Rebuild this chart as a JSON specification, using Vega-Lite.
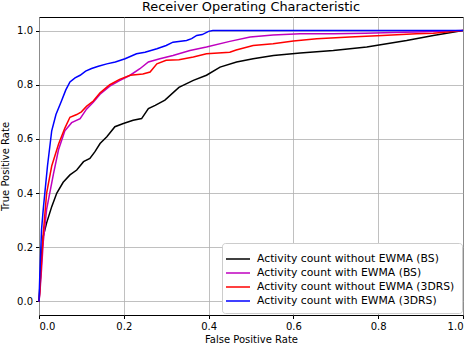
{
  "$schema": "https://vega.github.io/schema/vega-lite/v6.json",
  "autosize": {"type": "none"},
  "padding": {"left": 39, "top": 17, "right": 11, "bottom": 34},
  "width": 424,
  "height": 298,
  "background": "white",
  "config": {
    "font": "DejaVu Sans",
    "view": {"stroke": "black", "strokeWidth": 1}
  },
  "title": {"text": "Receiver Operating Characteristic", "fontSize": 12.9, "fontWeight": "normal", "font": "DejaVu Sans", "color": "black", "offset": 3},
  "data": {"values": [
    {"s":"Activity count without EWMA (BS)","x":0,"y":0},
    {"s":"Activity count without EWMA (BS)","x":0.003,"y":0.08},
    {"s":"Activity count without EWMA (BS)","x":0.006,"y":0.17},
    {"s":"Activity count without EWMA (BS)","x":0.01,"y":0.24},
    {"s":"Activity count without EWMA (BS)","x":0.018,"y":0.29},
    {"s":"Activity count without EWMA (BS)","x":0.03,"y":0.35},
    {"s":"Activity count without EWMA (BS)","x":0.042,"y":0.40},
    {"s":"Activity count without EWMA (BS)","x":0.057,"y":0.44},
    {"s":"Activity count without EWMA (BS)","x":0.073,"y":0.467},
    {"s":"Activity count without EWMA (BS)","x":0.089,"y":0.485},
    {"s":"Activity count without EWMA (BS)","x":0.105,"y":0.516},
    {"s":"Activity count without EWMA (BS)","x":0.12,"y":0.528},
    {"s":"Activity count without EWMA (BS)","x":0.132,"y":0.553},
    {"s":"Activity count without EWMA (BS)","x":0.144,"y":0.583},
    {"s":"Activity count without EWMA (BS)","x":0.16,"y":0.608},
    {"s":"Activity count without EWMA (BS)","x":0.179,"y":0.645},
    {"s":"Activity count without EWMA (BS)","x":0.199,"y":0.657},
    {"s":"Activity count without EWMA (BS)","x":0.222,"y":0.669},
    {"s":"Activity count without EWMA (BS)","x":0.242,"y":0.675},
    {"s":"Activity count without EWMA (BS)","x":0.258,"y":0.712},
    {"s":"Activity count without EWMA (BS)","x":0.274,"y":0.724},
    {"s":"Activity count without EWMA (BS)","x":0.297,"y":0.743},
    {"s":"Activity count without EWMA (BS)","x":0.33,"y":0.79},
    {"s":"Activity count without EWMA (BS)","x":0.364,"y":0.816},
    {"s":"Activity count without EWMA (BS)","x":0.395,"y":0.835},
    {"s":"Activity count without EWMA (BS)","x":0.427,"y":0.865},
    {"s":"Activity count without EWMA (BS)","x":0.466,"y":0.884},
    {"s":"Activity count without EWMA (BS)","x":0.505,"y":0.896},
    {"s":"Activity count without EWMA (BS)","x":0.553,"y":0.908},
    {"s":"Activity count without EWMA (BS)","x":0.616,"y":0.917},
    {"s":"Activity count without EWMA (BS)","x":0.694,"y":0.926},
    {"s":"Activity count without EWMA (BS)","x":0.773,"y":0.939},
    {"s":"Activity count without EWMA (BS)","x":0.82,"y":0.951},
    {"s":"Activity count without EWMA (BS)","x":0.867,"y":0.963},
    {"s":"Activity count without EWMA (BS)","x":0.93,"y":0.982},
    {"s":"Activity count without EWMA (BS)","x":1,"y":1},

    {"s":"Activity count with EWMA (BS)","x":0,"y":0},
    {"s":"Activity count with EWMA (BS)","x":0.002,"y":0.03},
    {"s":"Activity count with EWMA (BS)","x":0.006,"y":0.12},
    {"s":"Activity count with EWMA (BS)","x":0.01,"y":0.22},
    {"s":"Activity count with EWMA (BS)","x":0.018,"y":0.34},
    {"s":"Activity count with EWMA (BS)","x":0.034,"y":0.47},
    {"s":"Activity count with EWMA (BS)","x":0.046,"y":0.56},
    {"s":"Activity count with EWMA (BS)","x":0.061,"y":0.63},
    {"s":"Activity count with EWMA (BS)","x":0.077,"y":0.66},
    {"s":"Activity count with EWMA (BS)","x":0.097,"y":0.675},
    {"s":"Activity count with EWMA (BS)","x":0.112,"y":0.71},
    {"s":"Activity count with EWMA (BS)","x":0.128,"y":0.735},
    {"s":"Activity count with EWMA (BS)","x":0.144,"y":0.765},
    {"s":"Activity count with EWMA (BS)","x":0.167,"y":0.795},
    {"s":"Activity count with EWMA (BS)","x":0.19,"y":0.815},
    {"s":"Activity count with EWMA (BS)","x":0.215,"y":0.835},
    {"s":"Activity count with EWMA (BS)","x":0.238,"y":0.859},
    {"s":"Activity count with EWMA (BS)","x":0.258,"y":0.884},
    {"s":"Activity count with EWMA (BS)","x":0.285,"y":0.896},
    {"s":"Activity count with EWMA (BS)","x":0.316,"y":0.908},
    {"s":"Activity count with EWMA (BS)","x":0.356,"y":0.926},
    {"s":"Activity count with EWMA (BS)","x":0.395,"y":0.939},
    {"s":"Activity count with EWMA (BS)","x":0.45,"y":0.96},
    {"s":"Activity count with EWMA (BS)","x":0.498,"y":0.976},
    {"s":"Activity count with EWMA (BS)","x":0.552,"y":0.984},
    {"s":"Activity count with EWMA (BS)","x":0.616,"y":0.988},
    {"s":"Activity count with EWMA (BS)","x":0.694,"y":0.988},
    {"s":"Activity count with EWMA (BS)","x":0.77,"y":0.99},
    {"s":"Activity count with EWMA (BS)","x":0.835,"y":0.993},
    {"s":"Activity count with EWMA (BS)","x":0.89,"y":0.995},
    {"s":"Activity count with EWMA (BS)","x":1,"y":1},

    {"s":"Activity count without EWMA (3DRS)","x":0,"y":0},
    {"s":"Activity count without EWMA (3DRS)","x":0.002,"y":0.04},
    {"s":"Activity count without EWMA (3DRS)","x":0.006,"y":0.15},
    {"s":"Activity count without EWMA (3DRS)","x":0.01,"y":0.25},
    {"s":"Activity count without EWMA (3DRS)","x":0.018,"y":0.40},
    {"s":"Activity count without EWMA (3DRS)","x":0.03,"y":0.50},
    {"s":"Activity count without EWMA (3DRS)","x":0.046,"y":0.58},
    {"s":"Activity count without EWMA (3DRS)","x":0.061,"y":0.64},
    {"s":"Activity count without EWMA (3DRS)","x":0.073,"y":0.68},
    {"s":"Activity count without EWMA (3DRS)","x":0.089,"y":0.69},
    {"s":"Activity count without EWMA (3DRS)","x":0.10,"y":0.70},
    {"s":"Activity count without EWMA (3DRS)","x":0.112,"y":0.72},
    {"s":"Activity count without EWMA (3DRS)","x":0.128,"y":0.74},
    {"s":"Activity count without EWMA (3DRS)","x":0.144,"y":0.77},
    {"s":"Activity count without EWMA (3DRS)","x":0.167,"y":0.80},
    {"s":"Activity count without EWMA (3DRS)","x":0.19,"y":0.82},
    {"s":"Activity count without EWMA (3DRS)","x":0.215,"y":0.835},
    {"s":"Activity count without EWMA (3DRS)","x":0.245,"y":0.84},
    {"s":"Activity count without EWMA (3DRS)","x":0.262,"y":0.847},
    {"s":"Activity count without EWMA (3DRS)","x":0.278,"y":0.877},
    {"s":"Activity count without EWMA (3DRS)","x":0.30,"y":0.89},
    {"s":"Activity count without EWMA (3DRS)","x":0.33,"y":0.892},
    {"s":"Activity count without EWMA (3DRS)","x":0.364,"y":0.902},
    {"s":"Activity count without EWMA (3DRS)","x":0.395,"y":0.914},
    {"s":"Activity count without EWMA (3DRS)","x":0.45,"y":0.92},
    {"s":"Activity count without EWMA (3DRS)","x":0.465,"y":0.928},
    {"s":"Activity count without EWMA (3DRS)","x":0.505,"y":0.945},
    {"s":"Activity count without EWMA (3DRS)","x":0.552,"y":0.951},
    {"s":"Activity count without EWMA (3DRS)","x":0.60,"y":0.961},
    {"s":"Activity count without EWMA (3DRS)","x":0.655,"y":0.97},
    {"s":"Activity count without EWMA (3DRS)","x":0.733,"y":0.976},
    {"s":"Activity count without EWMA (3DRS)","x":0.81,"y":0.982},
    {"s":"Activity count without EWMA (3DRS)","x":0.89,"y":0.988},
    {"s":"Activity count without EWMA (3DRS)","x":0.93,"y":0.99},
    {"s":"Activity count without EWMA (3DRS)","x":1,"y":1},

    {"s":"Activity count with EWMA (3DRS)","x":0,"y":0},
    {"s":"Activity count with EWMA (3DRS)","x":0.002,"y":0.1},
    {"s":"Activity count with EWMA (3DRS)","x":0.006,"y":0.265},
    {"s":"Activity count with EWMA (3DRS)","x":0.01,"y":0.34},
    {"s":"Activity count with EWMA (3DRS)","x":0.02,"y":0.5},
    {"s":"Activity count with EWMA (3DRS)","x":0.03,"y":0.63},
    {"s":"Activity count with EWMA (3DRS)","x":0.04,"y":0.69},
    {"s":"Activity count with EWMA (3DRS)","x":0.053,"y":0.74},
    {"s":"Activity count with EWMA (3DRS)","x":0.063,"y":0.78},
    {"s":"Activity count with EWMA (3DRS)","x":0.073,"y":0.81},
    {"s":"Activity count with EWMA (3DRS)","x":0.085,"y":0.825},
    {"s":"Activity count with EWMA (3DRS)","x":0.097,"y":0.835},
    {"s":"Activity count with EWMA (3DRS)","x":0.11,"y":0.85},
    {"s":"Activity count with EWMA (3DRS)","x":0.124,"y":0.86},
    {"s":"Activity count with EWMA (3DRS)","x":0.14,"y":0.868},
    {"s":"Activity count with EWMA (3DRS)","x":0.16,"y":0.877},
    {"s":"Activity count with EWMA (3DRS)","x":0.18,"y":0.884},
    {"s":"Activity count with EWMA (3DRS)","x":0.203,"y":0.896},
    {"s":"Activity count with EWMA (3DRS)","x":0.23,"y":0.914},
    {"s":"Activity count with EWMA (3DRS)","x":0.25,"y":0.92},
    {"s":"Activity count with EWMA (3DRS)","x":0.278,"y":0.933},
    {"s":"Activity count with EWMA (3DRS)","x":0.3,"y":0.945},
    {"s":"Activity count with EWMA (3DRS)","x":0.316,"y":0.957},
    {"s":"Activity count with EWMA (3DRS)","x":0.348,"y":0.963},
    {"s":"Activity count with EWMA (3DRS)","x":0.36,"y":0.97},
    {"s":"Activity count with EWMA (3DRS)","x":0.372,"y":0.982},
    {"s":"Activity count with EWMA (3DRS)","x":0.385,"y":0.985},
    {"s":"Activity count with EWMA (3DRS)","x":0.4,"y":0.997},
    {"s":"Activity count with EWMA (3DRS)","x":0.41,"y":1.0},
    {"s":"Activity count with EWMA (3DRS)","x":1.0,"y":1.0}
  ]},
  "mark": {"type": "line", "strokeWidth": 1.5},
  "encoding": {
    "x": {"field": "x", "type": "quantitative",
      "scale": {"domain": [0, 1], "nice": false, "zero": false},
      "axis": {"title": "False Positive Rate", "values": [0, 0.2, 0.4, 0.6, 0.8, 1.0], "format": ".1f",
        "grid": true, "gridColor": "#b0b0b0", "gridWidth": 0.8, "domain": false,
        "tickColor": "black", "tickSize": 3.5, "labelFontSize": 10, "labelColor": "black", "labelPadding": 3,
        "titleFontSize": 10, "titleFontWeight": "normal", "titleColor": "black", "titlePadding": 3}},
    "y": {"field": "y", "type": "quantitative",
      "scale": {"domain": [-0.05, 1.05], "nice": false, "zero": false},
      "axis": {"title": "True Positive Rate", "values": [0, 0.2, 0.4, 0.6, 0.8, 1.0], "format": ".1f",
        "grid": true, "gridColor": "#b0b0b0", "gridWidth": 0.8, "domain": false,
        "tickColor": "black", "tickSize": 3.5, "labelFontSize": 10, "labelColor": "black", "labelPadding": 3,
        "titleFontSize": 10, "titleFontWeight": "normal", "titleColor": "black", "titlePadding": 6}},
    "color": {"field": "s", "type": "nominal",
      "scale": {"domain": ["Activity count without EWMA (BS)", "Activity count with EWMA (BS)", "Activity count without EWMA (3DRS)", "Activity count with EWMA (3DRS)"],
        "range": ["#000000", "#bf00bf", "#ff0000", "#0000ff"]},
      "legend": {"title": null, "orient": "none", "legendX": 183, "legendY": 226,
        "symbolType": "M-1.5,0H1.5", "symbolSize": 256, "symbolStrokeWidth": 1.5,
        "labelFontSize": 10.8, "labelColor": "black", "labelOffset": 10, "labelLimit": 400,
        "fillColor": "white", "strokeColor": "#cccccc", "cornerRadius": 3, "padding": 7, "rowPadding": 0}},
    "order": {"field": "x", "type": "quantitative"}
  }
}
